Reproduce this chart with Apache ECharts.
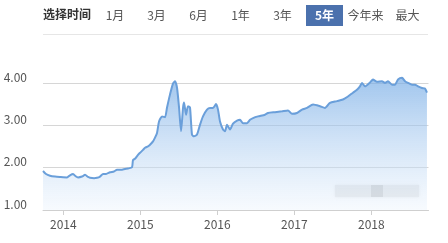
<!DOCTYPE html>
<html>
<head>
<meta charset="utf-8">
<script src="https://cdn.jsdelivr.net/npm/echarts@6/dist/echarts.min.js"></script>
<style>
html, body { margin: 0; padding: 0; background: #fff; }
#chart { width: 448px; height: 243px; }
</style>
</head>
<body>
<div id="chart"></div>
<script>
// time as decimal years, net value
var years = [
  2013.736, 2013.775, 2013.827, 2013.892, 2013.957, 2014.048, 2014.087, 2014.126, 2014.165, 2014.191,
  2014.243, 2014.282, 2014.321, 2014.347, 2014.399, 2014.438, 2014.477, 2014.516, 2014.555, 2014.606,
  2014.658, 2014.697, 2014.749, 2014.801, 2014.840, 2014.892, 2014.905, 2014.931, 2014.970, 2014.996,
  2015.035, 2015.061, 2015.100, 2015.126, 2015.165, 2015.191, 2015.217, 2015.243, 2015.282, 2015.321,
  2015.347, 2015.386, 2015.425, 2015.451, 2015.477, 2015.503, 2015.529, 2015.555, 2015.568, 2015.594,
  2015.619, 2015.645, 2015.671, 2015.697, 2015.736, 2015.775, 2015.814, 2015.866, 2015.905, 2015.944,
  2015.983, 2016.009, 2016.035, 2016.074, 2016.100, 2016.126, 2016.165, 2016.204, 2016.256, 2016.295,
  2016.334, 2016.386, 2016.425, 2016.464, 2016.529, 2016.619, 2016.658, 2016.749, 2016.840, 2016.918,
  2016.970, 2017.035, 2017.100, 2017.165, 2017.243, 2017.334, 2017.398, 2017.463, 2017.554, 2017.632,
  2017.697, 2017.762, 2017.814, 2017.853, 2017.879, 2017.918, 2017.983, 2018.022, 2018.074, 2018.139,
  2018.178, 2018.217, 2018.269, 2018.308, 2018.347, 2018.399, 2018.438, 2018.477, 2018.529, 2018.568,
  2018.607, 2018.658, 2018.697, 2018.723
];
var values = [
  1.92, 1.85, 1.81, 1.79, 1.78, 1.77, 1.82, 1.85, 1.79, 1.77,
  1.79, 1.83, 1.78, 1.76, 1.75, 1.76, 1.79, 1.85, 1.85, 1.89,
  1.91, 1.95, 1.95, 1.97, 1.98, 2.01, 2.18, 2.21, 2.30, 2.35,
  2.42, 2.47, 2.50, 2.54, 2.62, 2.71, 2.82, 3.09, 3.21, 3.19,
  3.42, 3.73, 3.99, 4.04, 3.88, 3.42, 2.86, 3.42, 3.54, 3.25,
  3.45, 3.42, 2.78, 2.74, 2.78, 3.01, 3.21, 3.37, 3.41, 3.41,
  3.50, 3.37, 3.09, 2.90, 2.86, 3.01, 2.90, 3.04, 3.11, 3.13,
  3.05, 3.05, 3.13, 3.17, 3.21, 3.25, 3.29, 3.31, 3.33, 3.35,
  3.27, 3.29, 3.37, 3.41, 3.49, 3.45, 3.41, 3.53, 3.57, 3.61,
  3.68, 3.77, 3.84, 3.92, 4.00, 3.92, 4.01, 4.08, 4.03, 4.04,
  4.00, 4.04, 3.96, 3.96, 4.08, 4.12, 4.04, 4.00, 3.96, 3.96,
  3.92, 3.88, 3.87, 3.77
];
var yearTicks = [2014, 2015, 2016, 2017, 2018];
var periods = ['1月', '3月', '6月', '1年', '3年', '5年', '今年来', '最大'];
var periodX = [115, 156.5, 198.5, 240.5, 282.5, 324.5, 365.5, 407.5];
var activePeriod = '5年';

var chart = echarts.init(document.getElementById('chart'));
var font = '"Noto Sans CJK SC", "Noto Sans", sans-serif';

var header = [{
  type: 'text', left: 43, top: 8,
  style: { text: '选择时间', font: 'bold 12px ' + font, fill: '#333' }
}, {
  type: 'rect', shape: { x: 43, y: 34, width: 385, height: 1 },
  style: { fill: '#e6e6e6' }
}];
periods.forEach(function (p, i) {
  var active = p === activePeriod;
  if (active) {
    header.push({
      type: 'rect', shape: { x: 306, y: 5, width: 37, height: 21 },
      style: { fill: '#4b71ad' }
    });
  }
  header.push({
    type: 'text', x: periodX[i], y: 15.5,
    style: {
      text: p, align: 'center', verticalAlign: 'middle',
      font: (active ? 'bold ' : '') + '12px ' + font,
      fill: active ? '#fff' : '#555'
    }
  });
});
// blurred watermark in the corner
header.push({
  type: 'rect', shape: { x: 335, y: 185, width: 84, height: 12 },
  style: { fill: '#e6e6e6', opacity: 0.85, shadowBlur: 3, shadowColor: 'rgba(220,220,220,0.8)' }
});
header.push({
  type: 'rect', shape: { x: 371, y: 185, width: 12, height: 12 },
  style: { fill: '#c8c8c8', opacity: 0.85 }
});

var option = {
  animation: false,
  grid: { left: 43, right: 19.5, top: 66, bottom: 33 },
  xAxis: {
    type: 'value',
    min: 2013.736,
    max: 2018.743,
    axisLine: { lineStyle: { color: '#cfcfcf' } },
    axisTick: { show: true, length: 5, customValues: yearTicks, lineStyle: { color: '#cfcfcf' } },
    axisLabel: {
      customValues: yearTicks, color: '#555', fontSize: 12, margin: 8,
      fontFamily: font,
      formatter: function (v) { return String(Math.round(v)); }
    },
    splitLine: { show: false }
  },
  yAxis: {
    type: 'value',
    min: 1,
    max: 4.4,
    interval: 1,
    axisLine: { show: false },
    axisTick: { show: false },
    axisLabel: {
      color: '#555', fontSize: 12, margin: 16, align: 'right',
      verticalAlign: 'bottom', lineHeight: 12, fontFamily: font,
      showMaxLabel: false,
      formatter: function (v) { return v.toFixed(2); }
    },
    splitLine: { showMaxLine: false, lineStyle: { color: '#d6d6d6' } }
  },
  series: [{
    type: 'line',
    data: years.map(function (y, i) { return [y, values[i]]; }),
    showSymbol: false,
    smooth: 0.2,
    lineStyle: { color: '#6a9fda', width: 2 },
    areaStyle: {
      color: new echarts.graphic.LinearGradient(0, 0, 0, 1, [
        { offset: 0, color: 'rgba(112,168,228,0.95)' },
        { offset: 1, color: 'rgba(236,244,253,0.6)' }
      ])
    }
  }],
  graphic: header
};
chart.setOption(option);
</script>
</body>
</html>
